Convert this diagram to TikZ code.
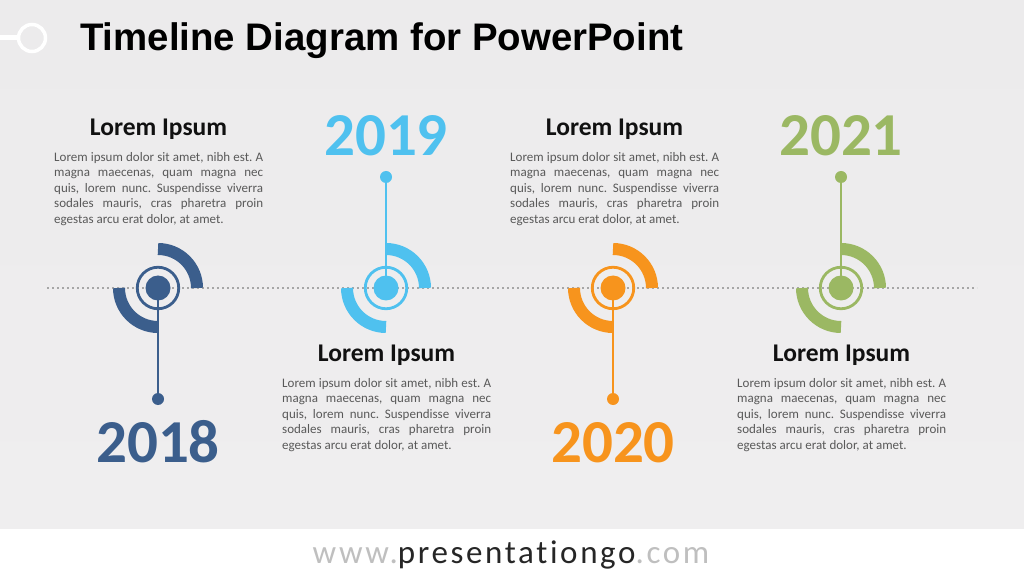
\documentclass[tikz,border=0pt]{standalone}
\usepackage{fontspec}
\setmainfont{Carlito}
\newfontfamily\titlefont{Liberation Sans}
\definecolor{bgtop}{HTML}{ECEBEC}
\definecolor{bgmid}{HTML}{F2F1F2}
\definecolor{bgbot}{HTML}{EFEEEF}
\definecolor{cA}{HTML}{3B5E8C}
\definecolor{cB}{HTML}{4FC1EF}
\definecolor{cC}{HTML}{F7941D}
\definecolor{cD}{HTML}{9BB863}
\definecolor{bodygray}{HTML}{595959}
\definecolor{headblack}{HTML}{111111}
\definecolor{urlgray}{HTML}{BFBFBF}
\definecolor{urldark}{HTML}{262626}
\definecolor{dotgray}{HTML}{A6A6A6}
\tikzset{
  yearlbl/.style={anchor=base, inner sep=0, font=\bfseries\fontsize{61}{61}\selectfont},
  headlbl/.style={anchor=base, inner sep=0, text=headblack, font=\bfseries\fontsize{25.5}{27}\selectfont},
  bodytxt/.style={anchor=north west, inner sep=0, text width=209pt, align=justify, text=bodygray, font=\frenchspacing\fontsize{13}{15.5}\selectfont},
  bigdot/.style={circle, fill=#1, minimum size=25pt, inner sep=0},
  enddot/.style={circle, fill=#1, minimum size=12pt, inner sep=0},
  ringnode/.style={circle, draw=#1, line width=2.8pt, minimum size=41.5pt, inner sep=0},
}
\newcommand\TLicon[4]{%
  \draw[#3, line width=12pt] (#2+39,288) arc[start angle=0,end angle=90,radius=39pt];
  \draw[#3, line width=12pt] (#2-39,288) arc[start angle=180,end angle=270,radius=39pt];
  \node[ringnode=#3] (#1ring) at (#2,288) {};
  \node[bigdot=#3] (#1c) at (#2,288) {};
  \node[enddot=#3] (#1d) at (#2,#4) {};
  \draw[#3, line width=2.2pt] (#1c.center) -- (#1d.center);
}
\newcommand\bodytext{Lorem ipsum dolor sit amet, nibh est. A\linebreak magna maecenas, quam magna nec\linebreak quis, lorem nunc. Suspendisse viverra\linebreak sodales mauris, cras pharetra proin\linebreak egestas arcu erat dolor, at amet.}
\begin{document}
\begin{tikzpicture}[x=1pt,y=1pt]
\useasboundingbox (0,0) rectangle (1024,576);
\fill[top color=bgtop, middle color=bgmid, bottom color=bgbot] (0,47) rectangle (1024,576);
\fill[white] (0,0) rectangle (1024,47);
% title icon
\coordinate (ic0) at (0,538);
\node[circle, draw=white, line width=3.5pt, minimum size=27pt, inner sep=0] (icr) at (32,538) {};
\draw[white, line width=5pt] (ic0) -- (icr.west);
\node[anchor=base west, inner sep=0, font=\titlefont\bfseries\fontsize{38.4}{40}\selectfont] (title) at (80,525) {Timeline Diagram for PowerPoint};
% dotted axis
\coordinate (axL) at (47,288);
\coordinate (axR) at (977,288);
\draw[dotgray, line width=2.2pt, dash pattern=on 2.2pt off 2.8pt] (axL) -- (axR);
% icons
\TLicon{a}{158}{cA}{177}
\TLicon{b}{386}{cB}{399}
\TLicon{c}{613}{cC}{177}
\TLicon{d}{841}{cD}{399}
% years
\node[yearlbl, text=cA] (y18) at (158,114) {2018};
\node[yearlbl, text=cB] (y19) at (386,420) {2019};
\node[yearlbl, text=cC] (y20) at (613,114) {2020};
\node[yearlbl, text=cD] (y21) at (841,420) {2021};
% headings
\node[headlbl] (h1) at (158.5,440) {Lorem Ipsum};
\node[headlbl] (h2) at (386.5,215) {Lorem Ipsum};
\node[headlbl] (h3) at (614.5,440) {Lorem Ipsum};
\node[headlbl] (h4) at (841.5,215) {Lorem Ipsum};
% bodies
\node[bodytxt] (b1) at (54,424) {\bodytext};
\node[bodytxt] (b2) at (282,198) {\bodytext};
\node[bodytxt] (b3) at (510,424) {\bodytext};
\node[bodytxt] (b4) at (737,198) {\bodytext};
% footer
\node[anchor=base, inner sep=0, font=\addfontfeatures{LetterSpace=8,Ligatures=NoCommon}\fontsize{33}{35}\selectfont] (url) at (511,13) {\textcolor{urlgray}{www.}\textcolor{urldark}{presentationgo}\textcolor{urlgray}{.com}};
\end{tikzpicture}
\end{document}
